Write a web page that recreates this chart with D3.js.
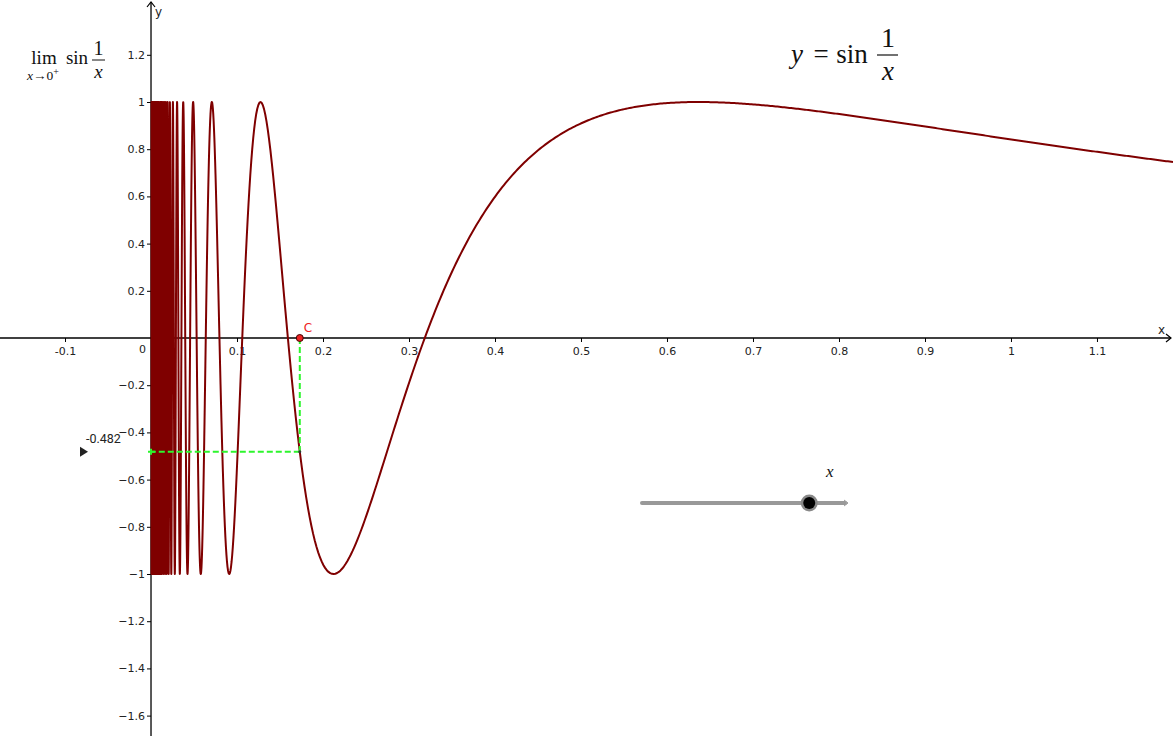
<!DOCTYPE html>
<html><head><meta charset="utf-8">
<script src="https://cdn.jsdelivr.net/npm/d3@7"></script>
<style>
html,body{margin:0;padding:0;background:#fff;}
svg{display:block;}
.tick text{font-family:"DejaVu Sans",sans-serif;}
</style></head>
<body>
<svg id="chart" width="1173" height="736"></svg>
<script>
// ---- data ----
const xDomain = [-0.1756, 1.1884];
const yDomain = [-1.6864, 1.4322];
const xTicks = [-0.1, 0, 0.1, 0.2, 0.3, 0.4, 0.5, 0.6, 0.7, 0.8, 0.9, 1, 1.1];
const xTickLabels = ["-0.1", "0", "0.1", "0.2", "0.3", "0.4", "0.5", "0.6", "0.7", "0.8", "0.9", "1", "1.1"];
const yTicks = [-1.6, -1.4, -1.2, -1, -0.8, -0.6, -0.4, -0.2, 0.2, 0.4, 0.6, 0.8, 1, 1.2];
const yTickLabels = ["\u22121.6", "\u22121.4", "\u22121.2", "\u22121", "\u22120.8", "\u22120.6", "\u22120.4", "\u22120.2", "0.2", "0.4", "0.6", "0.8", "1", "1.2"];
// plotted function (stated in the chart title): y = sin(1/x), x > 0
const plottedFunction = x => Math.sin(1 / x);
const pointC = { x: 0.173, y: 0, label: "C" };
const pointCValue = [-0.482];
const slider = { min: 0, max: 0.21, value: 0.173, label: "x" };

// ---- layout ----
const W = 1173, H = 736;
const svg = d3.select("#chart");
const x = d3.scaleLinear().domain(xDomain).range([0, W]);
const y = d3.scaleLinear().domain(yDomain).range([H, 0]);
const x0 = x(0), y0 = y(0);
const axisColor = "#000";

// curve samples: step chosen so phase change per step is small
const samples = [];
{
  let xv = xDomain[1];
  while (xv > 0.0006) {
    samples.push([xv, plottedFunction(xv)]);
    xv -= Math.min(0.002, 0.08 * xv * xv);
  }
}

svg.append("defs").append("clipPath").attr("id", "clip")
  .append("rect").attr("x", 0).attr("y", 0).attr("width", W).attr("height", H);

// axes
const xAxis = d3.axisBottom(x).tickValues(xTicks.filter(t => t !== 0))
  .tickFormat((d) => xTickLabels[xTicks.indexOf(d)]).tickSize(4).tickSizeOuter(0);
const gx = svg.append("g").attr("transform", `translate(0,${y0})`).call(xAxis);
gx.select(".domain").remove();
gx.selectAll(".tick line").attr("stroke", axisColor).attr("stroke-width", 1);
gx.selectAll(".tick text").attr("font-size", 11).attr("fill", "#222").attr("dy", "0.95em");

const yAxis = d3.axisLeft(y).tickValues(yTicks)
  .tickFormat((d) => yTickLabels[yTicks.indexOf(d)]).tickSize(4).tickSizeOuter(0);
const gy = svg.append("g").attr("transform", `translate(${x0},0)`).call(yAxis);
gy.select(".domain").remove();
gy.selectAll(".tick line").attr("stroke", axisColor).attr("stroke-width", 1);
gy.selectAll(".tick text").attr("font-size", 11).attr("fill", "#222").attr("x", -6);

// zero label
svg.append("text").attr("x", x0 - 5).attr("y", y0 + 15).attr("text-anchor", "end")
  .attr("font-family", "DejaVu Sans, sans-serif").attr("font-size", 11).attr("fill", "#222").text(xTickLabels[1]);

// axis lines with arrows
svg.append("line").attr("x1", 0).attr("x2", W - 2).attr("y1", y0).attr("y2", y0)
  .attr("stroke", axisColor).attr("stroke-width", 1.3);
svg.append("path").attr("d", `M${W - 7},${y0 - 4}L${W - 2},${y0}L${W - 7},${y0 + 4}`)
  .attr("fill", "none").attr("stroke", axisColor).attr("stroke-width", 1.2);
svg.append("line").attr("x1", x0).attr("x2", x0).attr("y1", 2).attr("y2", H)
  .attr("stroke", axisColor).attr("stroke-width", 1.3);
svg.append("path").attr("d", `M${x0 - 4},${7}L${x0},${2}L${x0 + 4},${7}`)
  .attr("fill", "none").attr("stroke", axisColor).attr("stroke-width", 1.2);
svg.append("text").attr("x", x0 + 4).attr("y", 16).attr("font-family", "DejaVu Sans, sans-serif")
  .attr("font-size", 12).attr("fill", "#222").text("y");
svg.append("text").attr("x", W - 15).attr("y", y0 - 4).attr("font-family", "DejaVu Sans, sans-serif")
  .attr("font-size", 12).attr("fill", "#222").text("x");

// curve
const line = d3.line().x(d => x(d[0])).y(d => y(d[1]));
svg.append("path").datum(samples).attr("clip-path", "url(#clip)")
  .attr("d", line).attr("fill", "none").attr("stroke", "#7f0000").attr("stroke-width", 2)
  .attr("stroke-linejoin", "round");

// green dashed projection lines
const cx = x(pointC.x), cy = y(pointCValue[0]);
const green = "#2df52d";
svg.append("line").attr("x1", cx).attr("x2", cx).attr("y1", y0).attr("y2", cy)
  .attr("stroke", green).attr("stroke-width", 2).attr("stroke-dasharray", "6,3");
svg.append("line").attr("x1", cx).attr("x2", x0).attr("y1", cy).attr("y2", cy)
  .attr("stroke", green).attr("stroke-width", 2).attr("stroke-dasharray", "6,3");
svg.append("path").attr("d", `M${x0 - 3},${cy}H${x0 + 4}M${x0},${cy - 3}V${cy + 3}`)
  .attr("stroke", green).attr("stroke-width", 2);
svg.append("circle").attr("cx", cx).attr("cy", cy).attr("r", 1.5).attr("fill", "#333");

// point C
svg.append("circle").attr("cx", cx).attr("cy", y(pointC.y)).attr("r", 3.5)
  .attr("fill", "#ee2222").attr("stroke", "#400").attr("stroke-width", 1);
svg.append("text").attr("x", cx + 4).attr("y", y0 - 6).attr("font-family", "DejaVu Sans, sans-serif")
  .attr("font-size", 12).attr("fill", "#ee2222").text(pointC.label);

// value label -0.482 with triangle
svg.append("path").attr("d", `M80,${cy - 5}L88,${cy}L80,${cy + 5}Z`).attr("fill", "#222");
svg.append("text").attr("x", 86).attr("y", cy - 9).attr("font-family", "Roboto, sans-serif")
  .attr("font-size", 12.5).attr("fill", "#222").text(pointCValue[0].toFixed(3));

// slider
const sx = d3.scaleLinear().domain([slider.min, slider.max]).range([642, 845]);
const sy = 503;
svg.append("line").attr("x1", sx(slider.min)).attr("x2", sx(slider.max)).attr("y1", sy).attr("y2", sy)
  .attr("stroke", "#999").attr("stroke-width", 4).attr("stroke-linecap", "round");
svg.append("path").attr("d", `M${sx(slider.max) - 1},${sy - 3}L${sx(slider.max) + 3},${sy}L${sx(slider.max) - 1},${sy + 3}`)
  .attr("fill", "none").attr("stroke", "#999").attr("stroke-width", 1);
svg.append("circle").attr("cx", sx(slider.value)).attr("cy", sy).attr("r", 8.5).attr("fill", "#888");
svg.append("circle").attr("cx", sx(slider.value)).attr("cy", sy).attr("r", 6).attr("fill", "#000");
svg.append("text").attr("x", 826).attr("y", 477).attr("font-family", "Liberation Serif, serif")
  .attr("font-style", "italic").attr("font-size", 17).attr("fill", "#111").text(slider.label);

// title formula y = sin 1/x
const serif = "Liberation Serif, DejaVu Serif, serif";
const tb = 63;
const title = svg.append("g").attr("fill", "#111").attr("font-family", serif);
title.append("text").attr("x", 797).attr("y", tb).attr("font-size", 27).attr("font-style", "italic").attr("text-anchor", "middle").text("y");
title.append("text").attr("x", 821).attr("y", tb).attr("font-size", 27).attr("text-anchor", "middle").text("=");
title.append("text").attr("x", 852).attr("y", tb).attr("font-size", 27).attr("text-anchor", "middle").text("sin");
title.append("line").attr("x1", 877).attr("x2", 898).attr("y1", 55).attr("y2", 55).attr("stroke", "#111").attr("stroke-width", 1.2);
title.append("text").attr("x", 888).attr("y", 47).attr("font-size", 28).attr("text-anchor", "middle").text("1");
title.append("text").attr("x", 888).attr("y", 80).attr("font-size", 27).attr("font-style", "italic").attr("text-anchor", "middle").text("x");

// lim formula
const lim = svg.append("g").attr("fill", "#111").attr("font-family", serif);
lim.append("text").attr("x", 44).attr("y", 64).attr("font-size", 19).attr("text-anchor", "middle").text("lim");
lim.append("text").attr("x", 27).attr("y", 80).attr("font-size", 13.5)
  .call(t => { t.append("tspan").attr("font-style", "italic").text("x"); t.append("tspan").text("\u21920"); t.append("tspan").attr("dy", -5).attr("font-size", 10).text("+"); });
lim.append("text").attr("x", 77).attr("y", 64).attr("font-size", 19).attr("text-anchor", "middle").text("sin");
lim.append("line").attr("x1", 92).attr("x2", 105).attr("y1", 60).attr("y2", 60).attr("stroke", "#111").attr("stroke-width", 1);
lim.append("text").attr("x", 98.5).attr("y", 55).attr("font-size", 20).attr("text-anchor", "middle").text("1");
lim.append("text").attr("x", 98.5).attr("y", 78).attr("font-size", 19).attr("font-style", "italic").attr("text-anchor", "middle").text("x");
</script>
</body></html>
